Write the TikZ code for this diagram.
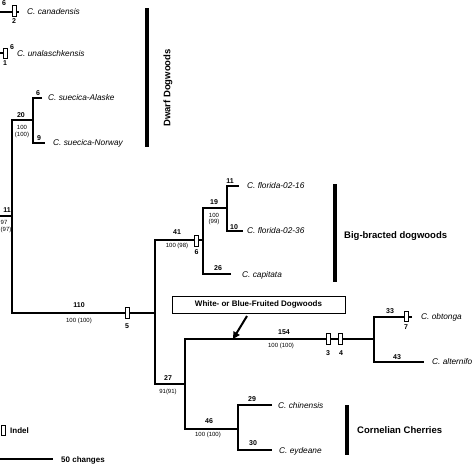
\documentclass[tikz,border=0pt]{standalone}
\usepackage{fontspec}
\setmainfont{Liberation Sans}
\usetikzlibrary{arrows.meta}
\begin{document}
\begin{tikzpicture}[x=1pt,y=-1pt,
  br/.style={line width=2.3pt, line join=miter},
  sp/.style={font=\fontsize{8.3}{9}\selectfont\itshape, anchor=west, inner sep=0pt},
  len/.style={font=\fontsize{7}{8}\selectfont\bfseries, inner sep=0pt},
  supp/.style={font=\fontsize{6}{7}\selectfont, inner sep=0pt},
  grp/.style={font=\fontsize{9.5}{11}\selectfont\bfseries, inner sep=0pt},
  indel/.style={draw, fill=white, line width=0.8pt, minimum width=4pt, minimum height=11pt, inner sep=0pt},
  gbar/.style={line width=3.5pt}]
\useasboundingbox (0,0) rectangle (474,474);

% ---- coordinates
\coordinate (c0) at (-3,12);   \coordinate (c1) at (19,12);
\coordinate (u0) at (-3,53);   \coordinate (u1) at (8,53);
\coordinate (r0) at (-3,216);  \coordinate (r) at (12,216);
\coordinate (a) at (12,120);   \coordinate (b) at (12,313);
\coordinate (s) at (33,120);
\coordinate (s1) at (33,98);   \coordinate (s1e) at (42,98);
\coordinate (s2) at (33,143);  \coordinate (s2e) at (45,143);
\coordinate (n110) at (155,313);
\coordinate (n41) at (155,240); \coordinate (n27) at (155,384);
\coordinate (n41e) at (203,240); \coordinate (n27b) at (185,384);
\coordinate (f) at (203,208);  \coordinate (fa) at (227,208);
\coordinate (cap) at (203,274); \coordinate (cape) at (231,274);
\coordinate (f1) at (227,186); \coordinate (f1e) at (239,186);
\coordinate (f2) at (227,231); \coordinate (f2e) at (243,231);
\coordinate (w) at (185,339);  \coordinate (wn) at (374,339);
\coordinate (cc) at (185,429); \coordinate (ccn) at (238,429);
\coordinate (o) at (374,317);  \coordinate (oe) at (412,317);
\coordinate (al) at (374,362); \coordinate (ale) at (424,362);
\coordinate (ch) at (238,405); \coordinate (che) at (272,405);
\coordinate (ey) at (238,450); \coordinate (eye) at (272,450);

% ---- branches
\draw[br] (c0) -- (c1);
\draw[br] (u0) -- (u1);
\draw[br] (r0) -- (r);
\draw[br] (s) -- (a) -- (b) -- (n110);
\draw[br] (s1e) -- (s1) -- (s2) -- (s2e);
\draw[br] (n41e) -- (n41) -- (n27) -- (n27b);
\draw[br] (cape) -- (cap) -- (f) -- (fa);
\draw[br] (f1e) -- (f1) -- (f2) -- (f2e);
\draw[br] (wn) -- (w) -- (cc) -- (ccn);
\draw[br] (oe) -- (o) -- (al) -- (ale);
\draw[br] (che) -- (ch) -- (ey) -- (eye);

% ---- indels
\node[indel] (ic) at (14,10.5) {};
\node[indel, minimum height=10pt] (iu) at (5.5,53) {};
\node[indel] (i5) at (127,313) {};
\node[indel] (i6) at (196.5,241) {};
\node[indel] (i3) at (328,339) {};
\node[indel] (i4) at (340,339) {};
\node[indel, minimum height=10pt] (i7) at (406,316) {};

% ---- indel numbers
\node[len] (t6c) at (4,3) {6};
\node[len] (t2) at (14,21) {2};
\node[len] (t6u) at (12,47) {6};
\node[len] (t1) at (5,63) {1};
\node[len] (t5) at (127,326) {5};
\node[len] (t6) at (196.5,252) {6};
\node[len] (t3) at (328,353) {3};
\node[len] (t4) at (341,353) {4};
\node[len] (t7) at (406,327) {7};

% ---- branch lengths
\node[len] (l11r) at (7,210) {11};
\node[len] (l20) at (21,115) {20};
\node[len] (l6s) at (38,93) {6};
\node[len] (l9s) at (39,138) {9};
\node[len] (l110) at (79,305) {110};
\node[len] (l41) at (177,232) {41};
\node[len] (l19) at (214,202) {19};
\node[len] (l11f) at (230,181) {11};
\node[len] (l10f) at (234,227) {10};
\node[len] (l26) at (218,268) {26};
\node[len] (l27) at (168,378) {27};
\node[len] (l154) at (284,332) {154};
\node[len] (l33) at (390,311) {33};
\node[len] (l43) at (397,357) {43};
\node[len] (l46) at (209,421) {46};
\node[len] (l29) at (252,399) {29};
\node[len] (l30) at (253,443) {30};

% ---- support values
\node[supp, anchor=west] (b97a) at (0.5,222) {97};
\node[supp, anchor=west] (b97b) at (0.5,230) {(97)};
\node[supp] (b20a) at (22,127) {100};
\node[supp] (b20b) at (22,135) {(100)};
\node[supp] (b110) at (79,321) {100 (100)};
\node[supp] (b41) at (177,246) {100 (98)};
\node[supp] (b19a) at (214,215) {100};
\node[supp] (b19b) at (214,222) {(99)};
\node[supp] (b27) at (168,392) {91(91)};
\node[supp] (b154) at (281,346) {100 (100)};
\node[supp] (b46) at (208,435) {100 (100)};

% ---- species
\node[sp] (canadensis) at (27,12) {C. canadensis};
\node[sp] (unal) at (17,54) {C. unalaschkensis};
\node[sp] (sueA) at (48,98) {C. suecica-Alaske};
\node[sp] (sueN) at (53,143) {C. suecica-Norway};
\node[sp] (flo16) at (247,186) {C. florida-02-16};
\node[sp] (flo36) at (247,231) {C. florida-02-36};
\node[sp] (capit) at (242,275) {C. capitata};
\node[sp] (obt) at (421,317) {C. obtonga};
\node[sp] (alt) at (432,362) {C. alternifo};
\node[sp] (chin) at (278,406) {C. chinensis};
\node[sp] (eyd) at (279,451) {C. eydeane};

% ---- group bars and labels
\draw[gbar] (147,8) -- (147,147);
\node[grp, rotate=90] (dwarf) at (168,88) {Dwarf Dogwoods};
\draw[gbar] (335,184) -- (335,282);
\node[grp, anchor=west] (big) at (344,236) {Big-bracted dogwoods};
\draw[gbar] (347,405) -- (347,455);
\node[grp, anchor=west] (corn) at (357,430) {Cornelian Cherries};

% ---- white/blue box and arrow
\node[draw, line width=0.8pt, minimum width=173pt, minimum height=17pt, inner sep=0pt,
      font=\fontsize{8}{9}\selectfont\bfseries] (wbox) at (258.5,304.5) {White- or Blue-Fruited Dogwoods};
\coordinate (arrS) at (247,316);
\coordinate (arrE) at (233,339);
\draw[line width=2pt, -{Triangle[length=7pt,width=7pt]}] (arrS) -- (arrE);

% ---- legend
\node[indel, minimum height=10pt] (legind) at (3,430) {};
\node[grp, font=\fontsize{8}{9}\selectfont\bfseries, anchor=west] (legtxt) at (10,431) {Indel};
\coordinate (sc0) at (0,459);
\coordinate (sc1) at (53,459);
\draw[br] (sc0) -- (sc1);
\node[font=\fontsize{8}{9}\selectfont\bfseries, anchor=west, inner sep=0pt] (sctxt) at (61,460) {50 changes};
\end{tikzpicture}
\end{document}
